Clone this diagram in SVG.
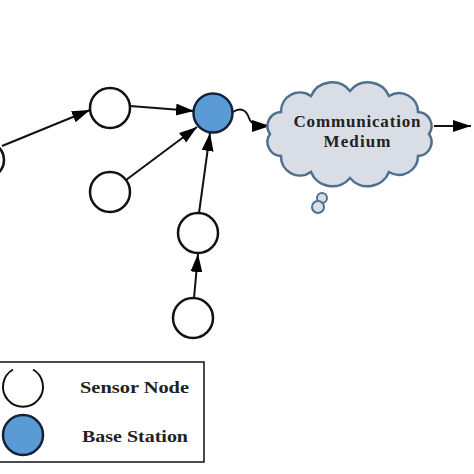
<svg xmlns="http://www.w3.org/2000/svg" width="474" height="474" viewBox="0 0 474 474">
<style>
.node{fill:#fff;stroke:#111;stroke-width:2.5}
.bs{fill:#5b9bd5;stroke:#14213a;stroke-width:2.5}
.edge{stroke:#111;stroke-width:2;fill:none;marker-end:url(#arr)}
.lbl{font-family:"Liberation Serif","DejaVu Serif",serif;font-weight:bold;fill:#222}
</style>
<defs>
<marker id="arr" markerUnits="userSpaceOnUse" markerWidth="19" markerHeight="13" refX="18" refY="6" orient="auto">
<path d="M0,0 L18,6 L0,12 z" fill="#000"/>
</marker>
</defs>
<rect width="474" height="474" fill="#fff"/>
<g id="connectors">
<line class="edge" x1="2" y1="146" x2="90" y2="110"/>
<line class="edge" x1="130" y1="106" x2="194" y2="111"/>
<line class="edge" x1="126" y1="180" x2="197" y2="127"/>
<line class="edge" x1="199" y1="213" x2="210" y2="133"/>
<line class="edge" x1="194" y1="298" x2="198" y2="254"/>
<path class="edge" d="M233,112 C242,106 247,112 249,118 C251,124 256,126 270,126"/>
<line class="edge" x1="434" y1="126" x2="471" y2="126"/>
</g>
<g id="node-left"><circle class="node" cx="-14" cy="160" r="18"/></g>
<g id="node-a"><circle class="node" cx="110" cy="108" r="20"/></g>
<g id="node-b"><circle class="node" cx="110" cy="192" r="20"/></g>
<g id="node-c"><circle class="node" cx="198" cy="233" r="20"/></g>
<g id="node-d"><circle class="node" cx="193" cy="318" r="20"/></g>
<g id="base-station"><circle class="bs" cx="213" cy="113" r="19.5"/></g>
<g id="cloud">
<path d="M429,134 A14,14 0 0 1 418,156 A19,19 0 0 1 389,172 A23,23 0 0 1 350,178 A23,23 0 0 1 311,172 A19,19 0 0 1 281,156 A14,14 0 0 1 270,134 A14,14 0 0 1 281,112 A19,19 0 0 1 311,96 A23,23 0 0 1 350,91 A23,23 0 0 1 389,96 A19,19 0 0 1 418,112 A14,14 0 0 1 429,134 Z" fill="#d9dee6" stroke="#4f6f8f" stroke-width="2.5"/>
<circle cx="322" cy="198" r="5" fill="#d9dee6" stroke="#4f6f8f" stroke-width="2"/>
<circle cx="318" cy="207" r="6" fill="#d9dee6" stroke="#4f6f8f" stroke-width="2"/>
<text class="lbl" x="357" y="127" font-size="17" text-anchor="middle" textLength="127" lengthAdjust="spacing">Communication</text>
<text class="lbl" x="357" y="147" font-size="17" text-anchor="middle" textLength="67" lengthAdjust="spacing">Medium</text>
</g>
<g id="legend">
<rect x="-5" y="362" width="209" height="100" fill="none" stroke="#111" stroke-width="1.5"/>
<path d="M13,369.5 A20,20 0 1 0 33,369.5" fill="none" stroke="#111" stroke-width="2"/>
<circle class="bs" cx="23" cy="435" r="20" stroke-width="2"/>
<text class="lbl" x="80" y="393" font-size="17" textLength="109" lengthAdjust="spacingAndGlyphs">Sensor Node</text>
<text class="lbl" x="82" y="442" font-size="17" textLength="106" lengthAdjust="spacingAndGlyphs">Base Station</text>
</g>
</svg>
